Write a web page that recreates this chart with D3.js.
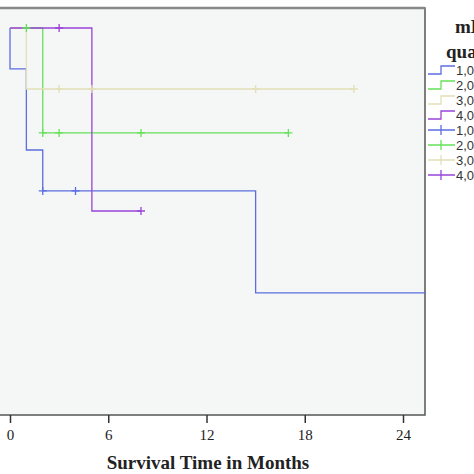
<!DOCTYPE html><html><head><script src="https://cdn.jsdelivr.net/npm/d3@7"></script>
<style>body{margin:0;background:#fff}</style></head><body><svg width="474" height="474"></svg><script>
const ticks=[0,6,12,18,24];
const groups=["1,00","2,00","3,00","4,00"];
const colors=["#5b6ee0","#66e05a","#e3dfb8","#9a44d8"];
const steps=[
 [[0,1],[0,0.89],[1,0.89],[1,0.672],[2,0.672],[2,0.562],[15,0.562],[15,0.288],[25.4,0.288]],
 [[0,1],[2,1],[2,0.718],[17,0.718]],
 [[0,1],[1,1],[1,0.836],[21,0.836]],
 [[0,1],[5,1],[5,0.508],[8,0.508]]];
const censors=[
 [[2,0.562],[4,0.562]],
 [[1,1],[2,0.718],[3,0.718],[8,0.718],[17,0.718]],
 [[3,0.836],[5,0.836],[15,0.836],[21,0.836]],
 [[3,1],[8,0.508]]];
const svg=d3.select("svg");
const x=d3.scaleLinear().domain([0,24]).range([10,403]);
const y=d3.scaleLinear().domain([0,1]).range([400,28]);
svg.append("rect").attr("x",-5).attr("y",8).attr("width",430).attr("height",407).attr("fill","#f5f6f6").attr("stroke","#555").attr("stroke-width",1.5);
svg.append("line").attr("x1",0).attr("x2",425).attr("y1",8).attr("y2",8).attr("stroke","#888").attr("stroke-width",2.5);
const ax=svg.append("g").attr("transform","translate(0,415)").call(d3.axisBottom(x).tickValues(ticks).tickSize(8).tickPadding(6));
ax.select(".domain").remove();
ax.selectAll("line").attr("stroke","#333").attr("stroke-width",1.5);
ax.selectAll("text").attr("font-family","Liberation Serif").attr("font-size",15).attr("fill","#222");
svg.append("text").attr("x",208).attr("y",469).attr("text-anchor","middle").attr("font-family","Liberation Serif").attr("font-weight","bold").attr("font-size",19).attr("fill","#222").text("Survival Time in Months");
const line=d3.line().x(d=>x(d[0])).y(d=>y(d[1]));
steps.forEach((s,i)=>svg.append("path").attr("d",line(s)).attr("fill","none").attr("stroke",colors[i]).attr("stroke-width",1.3));
censors.forEach((c,i)=>c.forEach(d=>{
 svg.append("path").attr("d",`M${x(d[0])-4},${y(d[1])}h8M${x(d[0])},${y(d[1])-4}v8`).attr("stroke",colors[i]).attr("stroke-width",1.3);}));
svg.append("text").attr("x",455).attr("y",33).attr("font-family","Liberation Serif").attr("font-weight","bold").attr("font-size",19).attr("fill","#222").text("mL");
svg.append("text").attr("x",446).attr("y",58).attr("font-family","Liberation Serif").attr("font-weight","bold").attr("font-size",19).attr("fill","#222").text("quartile");
const items=groups.map((g,i)=>({g,c:colors[i],t:"step"})).concat(groups.map((g,i)=>({g,c:colors[i],t:"cens"})));
items.forEach((d,i)=>{const yy=70+i*15;
 if(d.t=="step") svg.append("path").attr("d",`M428,${yy+4}h13v-8h14`).attr("fill","none").attr("stroke",d.c).attr("stroke-width",1.3);
 else svg.append("path").attr("d",`M428,${yy}h27M441,${yy-5}v10`).attr("stroke",d.c).attr("stroke-width",1.3);
 svg.append("text").attr("x",456).attr("y",yy+5).attr("font-family","Liberation Sans").attr("font-size",13).attr("fill","#333").text(d.g);});
</script></body></html>
